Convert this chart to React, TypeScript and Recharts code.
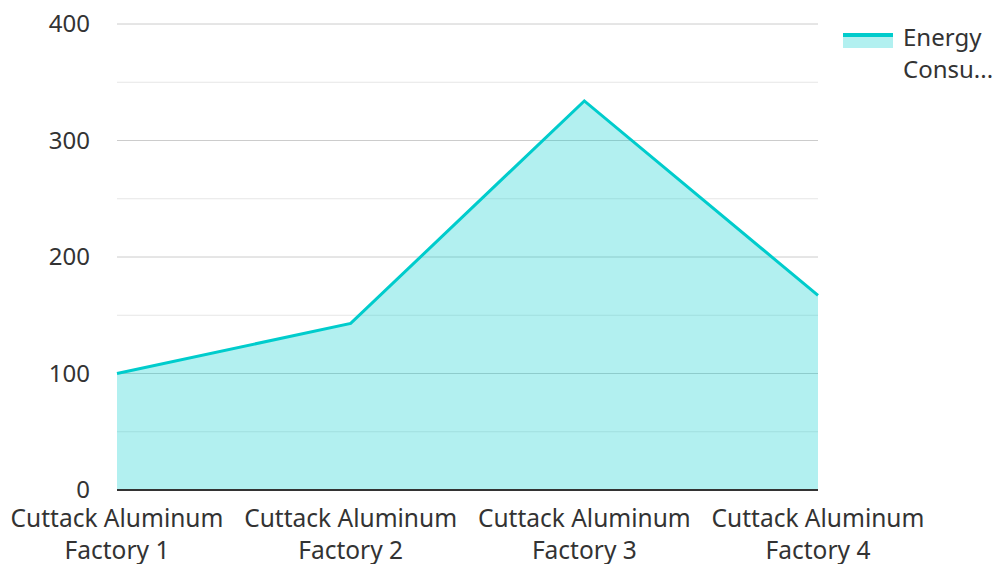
import { AreaChart, Area, XAxis, YAxis, CartesianGrid, Legend } from "recharts"

const factories = [
  "Cuttack Aluminum Factory 1",
  "Cuttack Aluminum Factory 2",
  "Cuttack Aluminum Factory 3",
  "Cuttack Aluminum Factory 4",
]
const energyConsumption = [100, 143, 334, 167]
const yTicks = [0, 100, 200, 300, 400]
const minorTicks = [50, 150, 250, 350]

const data = factories.map((name, i) => ({ name, energy: energyConsumption[i] }))

const FONT = "'Noto Sans', sans-serif"
const TEAL = "#00CCCC"

const XTick = (props: any) => {
  const { x, payload } = props
  const words: string[] = payload.value.split(" ")
  const first = words.slice(0, 2).join(" ")
  const second = words.slice(2).join(" ")
  // place lines relative to the axis line at y=490
  return (
    <text x={x} y={490} textAnchor="middle" fill="#333" fontSize={24.5} fontFamily={FONT}>
      <tspan x={x} dy={37}>{first}</tspan>
      <tspan x={x} dy={32}>{second}</tspan>
    </text>
  )
}

const YTick = (props: any) => {
  const { x, y, payload } = props
  return (
    <text x={x} y={y} dy={8} textAnchor="end" fill="#333" fontSize={24} fontFamily={FONT}>
      {payload.value}
    </text>
  )
}

const LegendBox = () => (
  <div style={{ display: "flex", alignItems: "flex-start", fontFamily: FONT, fontSize: 24, color: "#333" }}>
    <svg width={50} height={20} style={{ marginTop: 11, marginRight: 10, flexShrink: 0 }}>
      <rect x={0} y={2} width={50} height={14} fill={TEAL} fillOpacity={0.3} />
      <line x1={0} x2={50} y1={3} y2={3} stroke={TEAL} strokeWidth={4} />
    </svg>
    <div style={{ lineHeight: "32px", whiteSpace: "nowrap" }}>
      Energy
      <br />
      Consu...
    </div>
  </div>
)

export default function App() {
  return (
    <div style={{ position: "absolute", left: 0, top: 0, width: 997, height: 564, overflow: "hidden", background: "#fff" }}>
      <AreaChart width={997} height={564} data={data} margin={{ top: 24, right: 25, left: 0, bottom: 0 }}>
        <CartesianGrid vertical={false} horizontalValues={minorTicks} stroke="#e6e6e6" />
        <CartesianGrid vertical={false} horizontalValues={yTicks} stroke="#cccccc" />
        <XAxis
          dataKey="name"
          type="category"
          padding={{ left: 0, right: 0 }}
          interval={0}
          axisLine={{ stroke: "#333", strokeWidth: 2 }}
          tickLine={false}
          tick={<XTick />}
          height={74}
        />
        <YAxis
          domain={[0, 400]}
          ticks={yTicks}
          width={117}
          axisLine={false}
          tickLine={false}
          tickSize={0}
          tickMargin={27}
          tick={<YTick />}
        />
        <Legend
          layout="vertical"
          align="right"
          verticalAlign="top"
          width={154}
          wrapperStyle={{ left: 843, top: 21, width: 154 }}
          content={<LegendBox />}
        />
        <Area
          type="linear"
          dataKey="energy"
          name="Energy Consumption"
          stroke={TEAL}
          strokeWidth={3}
          fill={TEAL}
          fillOpacity={0.3}
          isAnimationActive={false}
        />
      </AreaChart>
    </div>
  )
}
